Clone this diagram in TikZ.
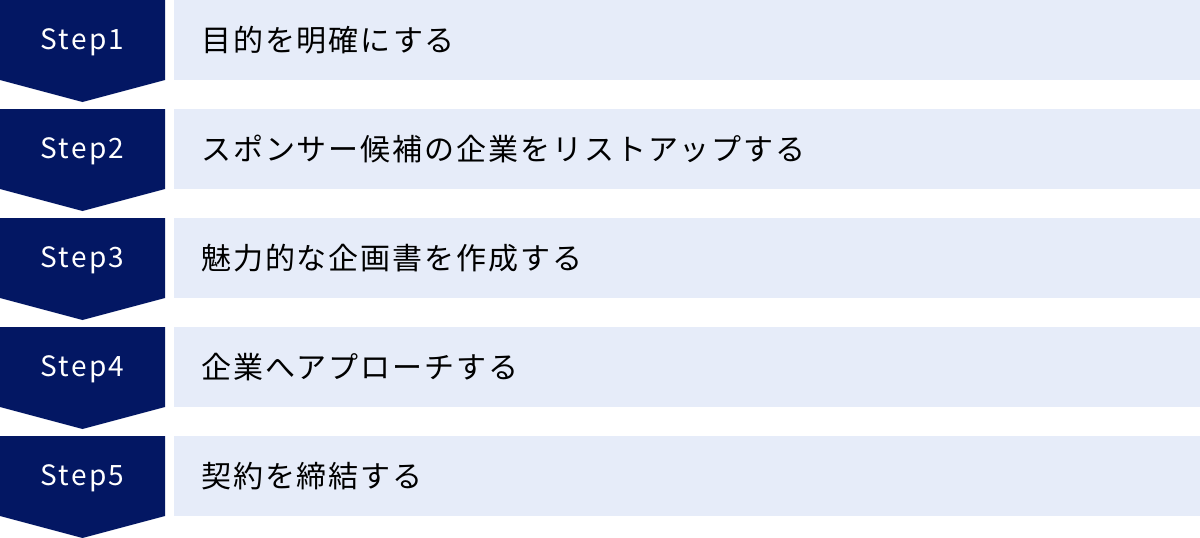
\documentclass[tikz,border=0pt]{standalone}
\usepackage{fontspec}
\newfontfamily\jpfont{Noto Sans CJK JP}[LetterSpace=6.4]
\newfontfamily\stepfont{Noto Sans CJK JP}[LetterSpace=8]
\definecolor{navy}{RGB}{3,23,99}
\definecolor{lightbox}{RGB}{230,236,249}
\tikzset{
  chevron/.style={fill=navy, draw=none},
  panel/.style={fill=lightbox, draw=none},
  steplabel/.style={text=white, font=\stepfont\fontsize{28}{32}\selectfont, inner sep=0pt, anchor=base},
  itemlabel/.style={text=black, font=\jpfont\fontsize{30}{36}\selectfont, inner sep=0pt, anchor=base west},
}
\begin{document}
\begin{tikzpicture}[x=1pt,y=-1pt]
\useasboundingbox (0,0) rectangle (1200,538);
\foreach \i/\txt in {1/目的を明確にする,2/スポンサー候補の企業をリストアップする,3/魅力的な企画書を作成する,4/企業へアプローチする,5/契約を締結する}{
  \pgfmathsetmacro{\t}{109*(\i-1)}
  \fill[chevron] (0,\t) -- (165,\t) -- (165,\t+80) -- (82.5,\t+102) -- (0,\t+80) -- cycle;
  \fill[panel] (174,\t) rectangle (1200,\t+80);
  \node[steplabel] (s\i) at (82.5,\t+49.5) {Step\i};
  \node[itemlabel] (t\i) at (201,\t+51) {\txt};
}
\end{tikzpicture}
\end{document}
